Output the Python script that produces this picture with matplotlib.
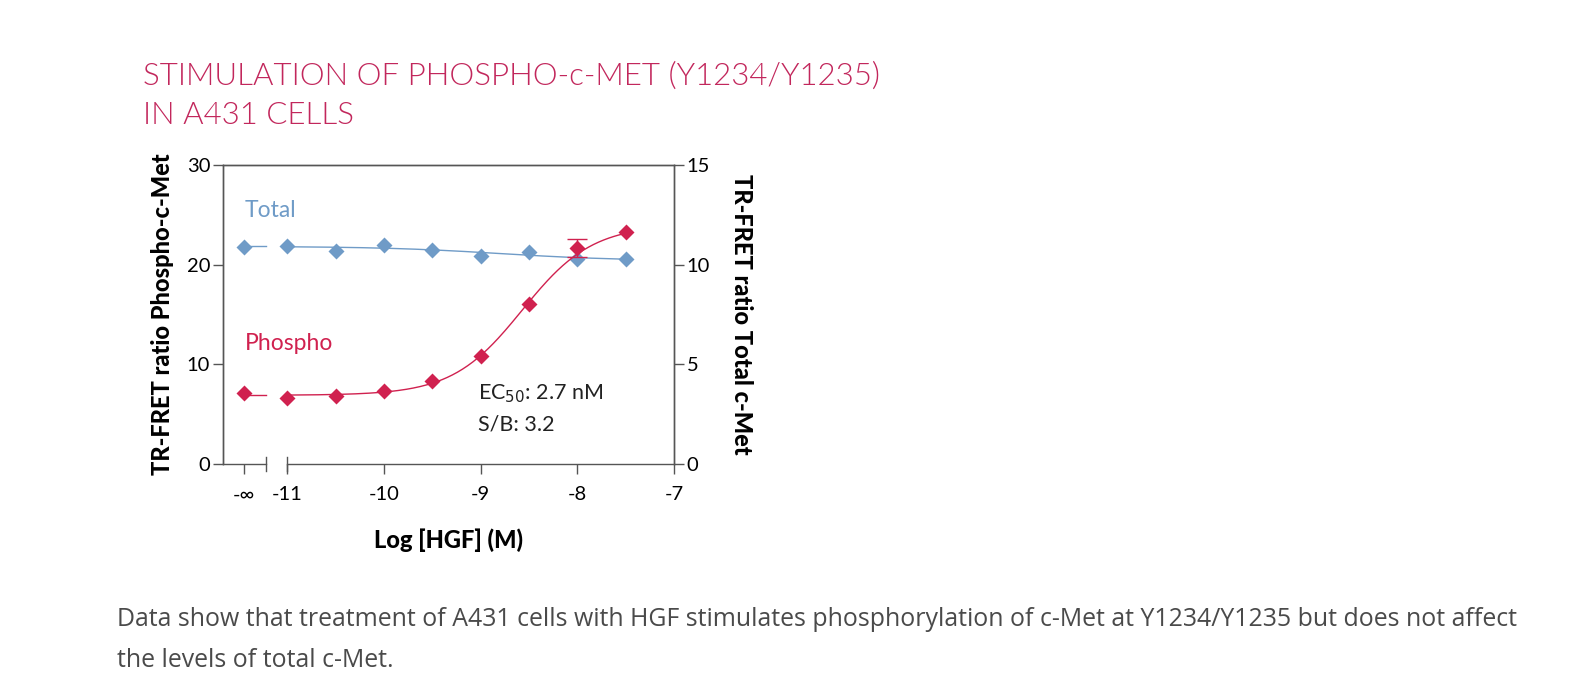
import numpy as np
import matplotlib
matplotlib.use("Agg")
import matplotlib.pyplot as plt

# data
log_hgf = [-11.45, -11.0, -10.5, -10.0, -9.5, -9.0, -8.5, -8.0, -7.5]   # first point is "-inf"
phospho = [7.15, 6.6, 6.85, 7.3, 8.35, 10.8, 16.05, 21.7, 23.3]
phospho_err = [0, 0, 0, 0, 0, 0, 0, 0.9, 0]
total = [10.87, 10.92, 10.67, 11.0, 10.76, 10.42, 10.64, 10.31, 10.27]

# fitted curve parameters (4PL): level at low dose, level at high dose
phospho_fit = dict(start=6.9, end=24.0, logec50=-8.57, hill=1.2)
total_fit = dict(start=10.92, end=10.2, logec50=-8.8, hill=0.7)

xticks = [-11.45, -11, -10, -9, -8, -7]
xticklabels = ["-\u221e", "-11", "-10", "-9", "-8", "-7"]

RED = "#D0214F"
BLUE = "#6F9BC7"
TITLE = "#C2275C"
AXC = "#555555"


def four_pl(x, start, end, logec50, hill):
    return start + (end - start) / (1 + 10 ** ((logec50 - x) * hill))


plt.rcParams["font.family"] = ["Lato", "DejaVu Sans"]

fig = plt.figure(figsize=(15.74, 7.0), dpi=100)
ax = fig.add_axes([0.1415, 0.3371, 0.2867, 0.4271])
ax2 = ax.twinx()
ax.set_zorder(ax2.get_zorder() + 1)
ax.patch.set_visible(False)

x_lo, x_brk = -11.67, -11.225
ax.set_xlim(x_lo, -7)
ax.set_ylim(0, 30)
ax2.set_ylim(0, 15)

# fit lines: short stub for the "-inf" point, then the curve
xs = np.linspace(-11, log_hgf[-1], 200)
ax.plot(xs, four_pl(xs, **phospho_fit), color=RED, lw=1)
ax.plot([log_hgf[0], x_brk], [phospho_fit["start"]] * 2, color=RED, lw=1)
ax2.plot(xs, four_pl(xs, **total_fit), color=BLUE, lw=1)
ax2.plot([log_hgf[0], x_brk], [total_fit["start"]] * 2, color=BLUE, lw=1)

ax2.plot(log_hgf, total, "D", color=BLUE, ms=8.5, mec="none")
ax.plot(log_hgf, phospho, "D", color=RED, ms=8.5, mec="none")
err_x = [x for x, e in zip(log_hgf, phospho_err) if e > 0]
err_y = [y for y, e in zip(phospho, phospho_err) if e > 0]
err_e = [e for e in phospho_err if e > 0]
ax.errorbar(err_x, err_y, yerr=err_e, fmt="none", ecolor=RED,
            elinewidth=1, capsize=7, capthick=1)

# spines / axis break
for a in (ax, ax2):
    a.spines["bottom"].set_visible(False)
    for s in ("left", "right", "top"):
        a.spines[s].set_color(AXC)
        a.spines[s].set_linewidth(1)
ax.plot([x_lo, x_brk], [0, 0], color=AXC, lw=1, clip_on=False)
ax.plot([-11, -7], [0, 0], color=AXC, lw=1, clip_on=False)
ax.plot([x_brk, x_brk], [-0.7, 0.7], color=AXC, lw=1, clip_on=False)
ax.plot([-11, -11], [-0.7, 0.7], color=AXC, lw=1, clip_on=False)

ax.set_xticks(xticks)
ax.set_xticklabels(xticklabels)
ax.set_yticks([0, 10, 20, 30])
ax2.set_yticks([0, 5, 10, 15])
ax.tick_params(axis="x", length=7, width=1, color=AXC, labelsize=14.5, pad=9)
ax.tick_params(axis="y", length=7, width=1, color=AXC, labelsize=14.5, pad=2)
ax2.tick_params(axis="y", length=7, width=1, color=AXC, labelsize=14.5, pad=2)

ax.set_ylabel("TR-FRET ratio Phospho-c-Met", fontsize=17, fontweight=900, labelpad=9)
ax2.set_ylabel("TR-FRET ratio Total c-Met", fontsize=17, fontweight=900,
               rotation=-90, labelpad=31)
ax.set_xlabel("Log [HGF] (M)", fontsize=17, fontweight=900, labelpad=18)

ax.text(-11.44, 25.4, "Total", color=BLUE, fontsize=16.5, va="center")
ax.text(-11.44, 12.1, "Phospho", color=RED, fontsize=16.5, va="center")
ax.text(-9.03, 7.1, "EC$_{50}$: 2.7 nM", color="#222222", fontsize=15.5, va="center")
ax.text(-9.03, 4.0, "S/B: 3.2", color="#222222", fontsize=15.5, va="center")

fig.text(143 / 1574, 1 - 76 / 700, "STIMULATION OF PHOSPHO-c-MET (Y1234/Y1235)",
         color=TITLE, fontsize=22.5, fontweight=300, va="center")
fig.text(143 / 1574, 1 - 116 / 700, "IN A431 CELLS",
         color=TITLE, fontsize=22.5, fontweight=300, va="center")

caption = ("Data show that treatment of A431 cells with HGF stimulates phosphorylation "
           "of c-Met at Y1234/Y1235 but does not affect\nthe levels of total c-Met.")
fig.text(117 / 1574, 1 - 640 / 700, caption, color="#4a4a4a", fontsize=17.9,
         family=["Open Sans", "DejaVu Sans"], va="center", linespacing=1.85)

fig.savefig("out.png", dpi=100)
